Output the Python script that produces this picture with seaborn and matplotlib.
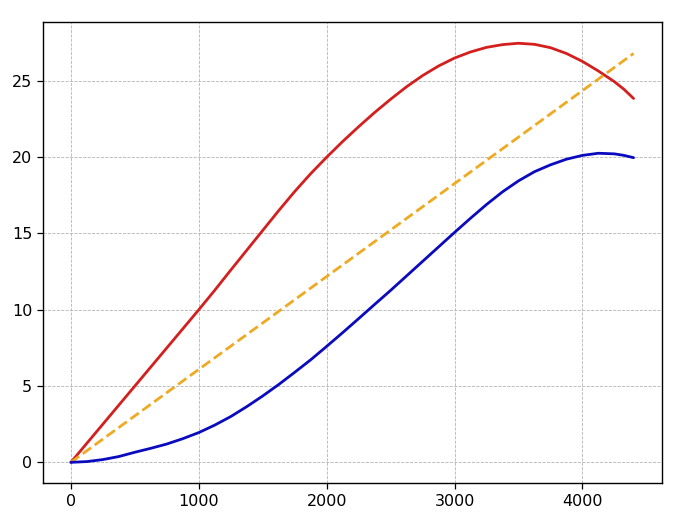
import matplotlib
matplotlib.use("Agg")
import matplotlib.pyplot as plt
import seaborn as sns
import pandas as pd

# Red curve
red_x = [0, 250, 500, 750, 1000, 1125, 1250, 1375, 1500, 1625, 1750, 1875, 2000,
         2125, 2250, 2375, 2500, 2625, 2750, 2875, 3000, 3125, 3250, 3375, 3500,
         3625, 3750, 3875, 4000, 4125, 4250, 4325, 4400]
red_y = [0, 2.5, 5.0, 7.5, 10.0, 11.28, 12.6, 13.9, 15.2, 16.5, 17.75, 18.92, 20.0,
         21.03, 22.0, 22.93, 23.8, 24.62, 25.35, 25.98, 26.5, 26.9, 27.2, 27.38, 27.47,
         27.4, 27.18, 26.8, 26.28, 25.65, 24.95, 24.45, 23.85]

# Blue curve
blue_x = [0, 125, 250, 375, 500, 625, 750, 875, 1000, 1125, 1250, 1375, 1500, 1625,
          1750, 1875, 2000, 2125, 2250, 2375, 2500, 2625, 2750, 2875, 3000, 3125,
          3250, 3375, 3500, 3625, 3750, 3875, 4000, 4125, 4250, 4325, 4400]
blue_y = [0, 0.05, 0.18, 0.38, 0.66, 0.92, 1.2, 1.55, 1.95, 2.44, 3.0, 3.65, 4.35, 5.1,
          5.9, 6.72, 7.6, 8.5, 9.42, 10.35, 11.27, 12.22, 13.17, 14.12, 15.07, 16.0,
          16.9, 17.73, 18.45, 19.05, 19.5, 19.87, 20.12, 20.26, 20.22, 20.12, 19.97]

# Orange dashed line
orange_x = [0, 4400]
orange_y = [0, 26.8]

x_ticks = [0, 1000, 2000, 3000, 4000]
y_ticks = [0, 5, 10, 15, 20, 25]

sns.set_style("ticks")
plt.rcParams['font.family'] = ['DejaVu Sans']

fig, ax = plt.subplots(figsize=(6.87, 5.26), dpi=100)
fig.subplots_adjust(left=0.0622, right=0.9632, bottom=0.0812, top=0.9576)

ax.grid(True, linestyle='--', color='#b4b4b4', linewidth=0.6)
ax.set_axisbelow(True)

sns.lineplot(data=pd.DataFrame({'x': red_x, 'y': red_y}), x='x', y='y', ax=ax,
             color='#d41f1f', linewidth=2.0, sort=False)
sns.lineplot(data=pd.DataFrame({'x': orange_x, 'y': orange_y}), x='x', y='y', ax=ax,
             color='#eeaa22', linewidth=2.0, linestyle='--', sort=False)
sns.lineplot(data=pd.DataFrame({'x': blue_x, 'y': blue_y}), x='x', y='y', ax=ax,
             color='#0a0abf', linewidth=2.0, sort=False)

ax.set_xticks(x_ticks)
ax.set_yticks(y_ticks)
ax.set_xlabel('')
ax.set_ylabel('')
ax.margins(x=0.05, y=0.05)
ax.tick_params(axis='both', labelsize=11.5, length=4, width=0.9, color='black',
               labelcolor='black', direction='out')
for s in ax.spines.values():
    s.set_color('black')
    s.set_linewidth(1.0)
    s.set_visible(True)

fig.savefig('out.png', dpi=100)
